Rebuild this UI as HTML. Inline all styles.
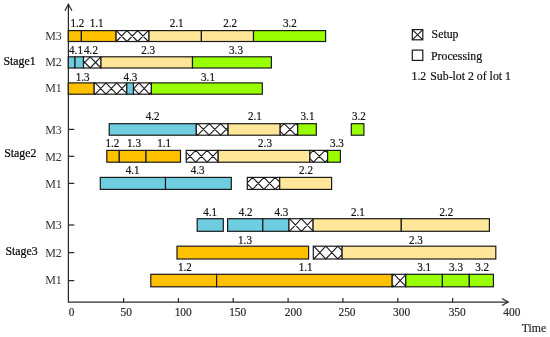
<!DOCTYPE html><html><head><meta charset="utf-8"><title>Gantt</title><style>html,body{margin:0;padding:0;background:#fff}svg{display:block}text{font-family:"Liberation Serif","DejaVu Serif",serif;font-size:11.8px;fill:#111;stroke:#111;stroke-width:0.2px}</style></head><body>
<svg width="550" height="337" viewBox="0 0 550 337">
<rect width="550" height="337" fill="#fff"/>
<g stroke="#2a2a2a" stroke-width="1.25" fill="none">
<path d="M68.4 4.3V302H508"/>
<path d="M64.9 10.7 L68.4 4.2 L71.9 10.7"/>
<path d="M502 298.5 L508.2 302 L502 305.5"/>
<path d="M123.6 302V298"/>
<path d="M178.4 302V298"/>
<path d="M233.2 302V298"/>
<path d="M288.1 302V298"/>
<path d="M342.9 302V298"/>
<path d="M397.8 302V298"/>
<path d="M452.6 302V298"/>
<path d="M68.4 36.0H74.3"/>
<path d="M68.4 62.4H74.3"/>
<path d="M68.4 88.6H74.3"/>
<path d="M68.4 129.4H74.3"/>
<path d="M68.4 156.3H74.3"/>
<path d="M68.4 183.4H74.3"/>
<path d="M68.4 225.0H74.3"/>
<path d="M68.4 252.6H74.3"/>
<path d="M68.4 280.6H74.3"/>
</g>
<rect x="68.3" y="30.6" width="13.1" height="10.9" fill="#FFC000" stroke="#1a1a1a" stroke-width="1.2"/>
<rect x="81.4" y="30.6" width="34.7" height="10.9" fill="#FFC000" stroke="#1a1a1a" stroke-width="1.2"/>
<rect x="116.1" y="30.6" width="32.9" height="10.9" fill="#fff" stroke="#1a1a1a" stroke-width="1.2"/>
<path d="M116.25 30.60L126.95 41.50M116.25 41.50L126.95 30.60M126.95 30.60L137.65 41.50M126.95 41.50L137.65 30.60M137.65 30.60L148.35 41.50M137.65 41.50L148.35 30.60M148.35 30.60L149.00 31.26M148.35 41.50L149.00 40.84" stroke="#1a1a1a" stroke-width="1.1" fill="none"/>
<rect x="149.0" y="30.6" width="52.4" height="10.9" fill="#FFE699" stroke="#1a1a1a" stroke-width="1.2"/>
<rect x="201.4" y="30.6" width="52.1" height="10.9" fill="#FFE699" stroke="#1a1a1a" stroke-width="1.2"/>
<rect x="253.5" y="30.6" width="72.1" height="10.9" fill="#99FF00" stroke="#1a1a1a" stroke-width="1.2"/>
<rect x="68.3" y="56.8" width="6.7" height="11.2" fill="#6FCDE0" stroke="#1a1a1a" stroke-width="1.2"/>
<rect x="75.0" y="56.8" width="8.5" height="11.2" fill="#6FCDE0" stroke="#1a1a1a" stroke-width="1.2"/>
<rect x="83.5" y="56.8" width="17.5" height="11.2" fill="#fff" stroke="#1a1a1a" stroke-width="1.2"/>
<path d="M83.50 61.16L90.10 68.00M83.50 63.64L90.10 56.80M90.10 56.80L100.90 68.00M90.10 68.00L100.90 56.80" stroke="#1a1a1a" stroke-width="1.1" fill="none"/>
<rect x="101.0" y="56.8" width="91.5" height="11.2" fill="#FFE699" stroke="#1a1a1a" stroke-width="1.2"/>
<rect x="192.5" y="56.8" width="78.9" height="11.2" fill="#99FF00" stroke="#1a1a1a" stroke-width="1.2"/>
<rect x="68.3" y="82.9" width="25.9" height="11.3" fill="#FFC000" stroke="#1a1a1a" stroke-width="1.2"/>
<rect x="94.2" y="82.9" width="32.6" height="11.3" fill="#fff" stroke="#1a1a1a" stroke-width="1.2"/>
<path d="M94.20 93.09L95.25 94.20M94.20 84.01L95.25 82.90M95.25 82.90L105.95 94.20M95.25 94.20L105.95 82.90M105.95 82.90L116.65 94.20M105.95 94.20L116.65 82.90M116.65 82.90L126.80 93.62M116.65 94.20L126.80 83.48" stroke="#1a1a1a" stroke-width="1.1" fill="none"/>
<rect x="126.8" y="82.9" width="6.7" height="11.3" fill="#6FCDE0" stroke="#1a1a1a" stroke-width="1.2"/>
<rect x="133.5" y="82.9" width="17.9" height="11.3" fill="#fff" stroke="#1a1a1a" stroke-width="1.2"/>
<path d="M133.50 88.33L138.95 94.20M133.50 88.77L138.95 82.90M138.95 82.90L149.45 94.20M138.95 94.20L149.45 82.90M149.45 82.90L151.40 85.00M149.45 94.20L151.40 92.10" stroke="#1a1a1a" stroke-width="1.1" fill="none"/>
<rect x="151.4" y="82.9" width="110.9" height="11.3" fill="#99FF00" stroke="#1a1a1a" stroke-width="1.2"/>
<rect x="109.2" y="123.7" width="87.1" height="11.5" fill="#6FCDE0" stroke="#1a1a1a" stroke-width="1.2"/>
<rect x="196.3" y="123.7" width="31.8" height="11.5" fill="#fff" stroke="#1a1a1a" stroke-width="1.2"/>
<path d="M196.30 133.82L197.68 135.20M196.30 125.08L197.68 123.70M197.68 123.70L209.12 135.20M197.68 135.20L209.12 123.70M209.12 123.70L220.57 135.20M209.12 135.20L220.57 123.70M220.58 123.70L228.10 131.26M220.58 135.20L228.10 127.64" stroke="#1a1a1a" stroke-width="1.1" fill="none"/>
<rect x="228.1" y="123.7" width="52.1" height="11.5" fill="#FFE699" stroke="#1a1a1a" stroke-width="1.2"/>
<rect x="280.2" y="123.7" width="17.5" height="11.5" fill="#fff" stroke="#1a1a1a" stroke-width="1.2"/>
<path d="M280.20 131.32L284.15 135.20M280.20 127.58L284.15 123.70M284.15 123.70L295.85 135.20M284.15 135.20L295.85 123.70M295.85 123.70L297.70 125.52M295.85 135.20L297.70 133.38" stroke="#1a1a1a" stroke-width="1.1" fill="none"/>
<rect x="297.7" y="123.7" width="18.6" height="11.5" fill="#99FF00" stroke="#1a1a1a" stroke-width="1.2"/>
<rect x="351.3" y="123.7" width="12.6" height="11.5" fill="#99FF00" stroke="#1a1a1a" stroke-width="1.2"/>
<rect x="106.8" y="150.4" width="12.5" height="11.8" fill="#FFC000" stroke="#1a1a1a" stroke-width="1.2"/>
<rect x="119.3" y="150.4" width="26.7" height="11.8" fill="#FFC000" stroke="#1a1a1a" stroke-width="1.2"/>
<rect x="146.0" y="150.4" width="34.5" height="11.8" fill="#FFC000" stroke="#1a1a1a" stroke-width="1.2"/>
<rect x="186.2" y="150.4" width="32.0" height="11.8" fill="#fff" stroke="#1a1a1a" stroke-width="1.2"/>
<path d="M186.20 152.37L195.70 162.20M186.20 160.23L195.70 150.40M195.70 150.40L207.10 162.20M195.70 162.20L207.10 150.40M207.10 150.40L218.20 161.89M207.10 162.20L218.20 150.71" stroke="#1a1a1a" stroke-width="1.1" fill="none"/>
<rect x="218.2" y="150.4" width="91.7" height="11.8" fill="#FFE699" stroke="#1a1a1a" stroke-width="1.2"/>
<rect x="309.9" y="150.4" width="17.7" height="11.8" fill="#fff" stroke="#1a1a1a" stroke-width="1.2"/>
<path d="M309.90 158.62L313.45 162.20M309.90 153.98L313.45 150.40M313.45 150.40L325.15 162.20M313.45 162.20L325.15 150.40M325.15 150.40L327.60 152.87M325.15 162.20L327.60 159.73" stroke="#1a1a1a" stroke-width="1.1" fill="none"/>
<rect x="327.6" y="150.4" width="12.8" height="11.8" fill="#99FF00" stroke="#1a1a1a" stroke-width="1.2"/>
<rect x="100.3" y="177.4" width="65.2" height="12.0" fill="#6FCDE0" stroke="#1a1a1a" stroke-width="1.2"/>
<rect x="165.5" y="177.4" width="65.8" height="12.0" fill="#6FCDE0" stroke="#1a1a1a" stroke-width="1.2"/>
<rect x="247.3" y="177.4" width="32.4" height="12.0" fill="#fff" stroke="#1a1a1a" stroke-width="1.2"/>
<path d="M247.30 183.82L252.57 189.40M247.30 182.98L252.57 177.40M252.57 177.40L263.93 189.40M252.57 189.40L263.93 177.40M263.93 177.40L275.28 189.40M263.93 189.40L275.28 177.40M275.27 177.40L279.70 182.08M275.27 189.40L279.70 184.72" stroke="#1a1a1a" stroke-width="1.1" fill="none"/>
<rect x="279.7" y="177.4" width="51.9" height="12.0" fill="#FFE699" stroke="#1a1a1a" stroke-width="1.2"/>
<rect x="197.2" y="218.7" width="26.1" height="12.6" fill="#6FCDE0" stroke="#1a1a1a" stroke-width="1.2"/>
<rect x="227.6" y="218.7" width="35.2" height="12.6" fill="#6FCDE0" stroke="#1a1a1a" stroke-width="1.2"/>
<rect x="262.8" y="218.7" width="26.2" height="12.6" fill="#6FCDE0" stroke="#1a1a1a" stroke-width="1.2"/>
<rect x="289.0" y="218.7" width="24.1" height="12.6" fill="#fff" stroke="#1a1a1a" stroke-width="1.2"/>
<path d="M289.00 230.85L289.42 231.30M289.00 219.15L289.42 218.70M289.42 218.70L301.37 231.30M289.42 231.30L301.37 218.70M301.37 218.70L313.10 231.06M301.37 231.30L313.10 218.94" stroke="#1a1a1a" stroke-width="1.1" fill="none"/>
<rect x="313.1" y="218.7" width="88.2" height="12.6" fill="#FFE699" stroke="#1a1a1a" stroke-width="1.2"/>
<rect x="401.3" y="218.7" width="88.1" height="12.6" fill="#FFE699" stroke="#1a1a1a" stroke-width="1.2"/>
<rect x="177.0" y="246.2" width="131.6" height="12.8" fill="#FFC000" stroke="#1a1a1a" stroke-width="1.2"/>
<rect x="313.3" y="246.2" width="28.8" height="12.8" fill="#fff" stroke="#1a1a1a" stroke-width="1.2"/>
<path d="M313.30 258.47L313.80 259.00M313.30 246.73L313.80 246.20M313.80 246.20L325.80 259.00M313.80 259.00L325.80 246.20M325.80 246.20L337.80 259.00M325.80 259.00L337.80 246.20M337.80 246.20L342.10 250.79M337.80 259.00L342.10 254.41" stroke="#1a1a1a" stroke-width="1.1" fill="none"/>
<rect x="342.1" y="246.2" width="153.7" height="12.8" fill="#FFE699" stroke="#1a1a1a" stroke-width="1.2"/>
<rect x="150.8" y="274.3" width="65.8" height="12.5" fill="#FFC000" stroke="#1a1a1a" stroke-width="1.2"/>
<rect x="216.6" y="274.3" width="175.6" height="12.5" fill="#FFC000" stroke="#1a1a1a" stroke-width="1.2"/>
<rect x="392.2" y="274.3" width="13.6" height="12.5" fill="#fff" stroke="#1a1a1a" stroke-width="1.2"/>
<path d="M392.20 284.72L394.20 286.80M392.20 276.38L394.20 274.30M394.20 274.30L405.80 286.38M394.20 286.80L405.80 274.72" stroke="#1a1a1a" stroke-width="1.1" fill="none"/>
<rect x="405.8" y="274.3" width="36.6" height="12.5" fill="#99FF00" stroke="#1a1a1a" stroke-width="1.2"/>
<rect x="442.4" y="274.3" width="26.9" height="12.5" fill="#99FF00" stroke="#1a1a1a" stroke-width="1.2"/>
<rect x="469.3" y="274.3" width="24.1" height="12.5" fill="#99FF00" stroke="#1a1a1a" stroke-width="1.2"/>
<g text-anchor="middle" style="font-size:12px">
<text transform="translate(77.4,27.0) scale(0.94,1)">1.2</text>
<text transform="translate(96.6,27.0) scale(0.94,1)">1.1</text>
<text transform="translate(176.7,27.0) scale(0.94,1)">2.1</text>
<text transform="translate(230.2,27.0) scale(0.94,1)">2.2</text>
<text transform="translate(289.8,27.0) scale(0.94,1)">3.2</text>
<text transform="translate(76.0,53.5) scale(0.94,1)">4.1</text>
<text transform="translate(91.0,53.5) scale(0.94,1)">4.2</text>
<text transform="translate(148.2,53.5) scale(0.94,1)">2.3</text>
<text transform="translate(236.0,53.5) scale(0.94,1)">3.3</text>
<text transform="translate(82.7,80.8) scale(0.94,1)">1.3</text>
<text transform="translate(130.3,80.8) scale(0.94,1)">4.3</text>
<text transform="translate(208.0,80.8) scale(0.94,1)">3.1</text>
<text transform="translate(152.7,120.3) scale(0.94,1)">4.2</text>
<text transform="translate(254.8,120.3) scale(0.94,1)">2.1</text>
<text transform="translate(307.5,120.3) scale(0.94,1)">3.1</text>
<text transform="translate(358.8,120.3) scale(0.94,1)">3.2</text>
<text transform="translate(112.4,147.2) scale(0.94,1)">1.2</text>
<text transform="translate(134.0,147.2) scale(0.94,1)">1.3</text>
<text transform="translate(164.2,147.2) scale(0.94,1)">1.1</text>
<text transform="translate(265.0,147.2) scale(0.94,1)">2.3</text>
<text transform="translate(336.9,147.2) scale(0.94,1)">3.3</text>
<text transform="translate(132.7,173.7) scale(0.94,1)">4.1</text>
<text transform="translate(197.6,173.7) scale(0.94,1)">4.3</text>
<text transform="translate(306.0,173.7) scale(0.94,1)">2.2</text>
<text transform="translate(210.2,216.0) scale(0.94,1)">4.1</text>
<text transform="translate(245.7,216.0) scale(0.94,1)">4.2</text>
<text transform="translate(281.3,216.0) scale(0.94,1)">4.3</text>
<text transform="translate(357.9,216.0) scale(0.94,1)">2.1</text>
<text transform="translate(446.4,216.0) scale(0.94,1)">2.2</text>
<text transform="translate(245.0,243.5) scale(0.94,1)">1.3</text>
<text transform="translate(415.8,243.5) scale(0.94,1)">2.3</text>
<text transform="translate(184.8,270.8) scale(0.94,1)">1.2</text>
<text transform="translate(305.6,270.8) scale(0.94,1)">1.1</text>
<text transform="translate(424.2,270.8) scale(0.94,1)">3.1</text>
<text transform="translate(456.0,270.8) scale(0.94,1)">3.3</text>
<text transform="translate(482.2,270.8) scale(0.94,1)">3.2</text>
<text transform="translate(71.5,315.8) scale(0.95,1)" style="font-size:12px;fill:#2a2a2a;stroke:#2a2a2a">0</text>
<text transform="translate(126.3,315.8) scale(0.95,1)" style="font-size:12px;fill:#2a2a2a;stroke:#2a2a2a">50</text>
<text transform="translate(183.2,315.8) scale(0.95,1)" style="font-size:12px;fill:#2a2a2a;stroke:#2a2a2a">100</text>
<text transform="translate(237.7,315.8) scale(0.95,1)" style="font-size:12px;fill:#2a2a2a;stroke:#2a2a2a">150</text>
<text transform="translate(293.3,315.8) scale(0.95,1)" style="font-size:12px;fill:#2a2a2a;stroke:#2a2a2a">200</text>
<text transform="translate(347.0,315.8) scale(0.95,1)" style="font-size:12px;fill:#2a2a2a;stroke:#2a2a2a">250</text>
<text transform="translate(401.6,315.8) scale(0.95,1)" style="font-size:12px;fill:#2a2a2a;stroke:#2a2a2a">300</text>
<text transform="translate(457.2,315.8) scale(0.95,1)" style="font-size:12px;fill:#2a2a2a;stroke:#2a2a2a">350</text>
<text transform="translate(511.8,315.8) scale(0.95,1)" style="font-size:12px;fill:#2a2a2a;stroke:#2a2a2a">400</text>
<text x="533.9" y="332.1" style="fill:#2a2a2a;stroke:#2a2a2a">Time</text>
</g>
<text transform="translate(3.5,65.0) scale(0.985,1)" style="font-size:12px;fill:#000;stroke:#000;stroke-width:0.2px">Stage1</text>
<text transform="translate(4.2,157.2) scale(0.985,1)" style="font-size:12px;fill:#000;stroke:#000;stroke-width:0.2px">Stage2</text>
<text transform="translate(5.5,255.0) scale(0.985,1)" style="font-size:12px;fill:#000;stroke:#000;stroke-width:0.2px">Stage3</text>
<text x="61.8" y="39.5" text-anchor="end" style="font-size:12px;fill:#333;stroke:none">M3</text>
<text x="61.8" y="65.7" text-anchor="end" style="font-size:12px;fill:#333;stroke:none">M2</text>
<text x="61.8" y="91.8" text-anchor="end" style="font-size:12px;fill:#333;stroke:none">M1</text>
<text x="61.8" y="134.3" text-anchor="end" style="font-size:12px;fill:#333;stroke:none">M3</text>
<text x="61.8" y="161.1" text-anchor="end" style="font-size:12px;fill:#333;stroke:none">M2</text>
<text x="61.8" y="187.8" text-anchor="end" style="font-size:12px;fill:#333;stroke:none">M1</text>
<text x="61.8" y="229.1" text-anchor="end" style="font-size:12px;fill:#333;stroke:none">M3</text>
<text x="61.8" y="256.8" text-anchor="end" style="font-size:12px;fill:#333;stroke:none">M2</text>
<text x="61.8" y="284.3" text-anchor="end" style="font-size:12px;fill:#333;stroke:none">M1</text>
<rect x="412.3" y="29.6" width="10.5" height="10.2" fill="#fff" stroke="#1a1a1a" stroke-width="1.2"/>
<path d="M412.3 29.6L422.8 39.8M412.3 39.8L422.8 29.6" stroke="#1a1a1a" stroke-width="1.1"/>
<rect x="412.3" y="50.1" width="10.5" height="10.3" fill="#fff" stroke="#1a1a1a" stroke-width="1.2"/>
<text x="431.6" y="38.2">Setup</text>
<text x="431" y="59.5">Processing</text>
<text x="411.5" y="79.9">1.2</text>
<text x="430.3" y="79.9">Sub-lot 2 of lot 1</text>
</svg></body></html>
